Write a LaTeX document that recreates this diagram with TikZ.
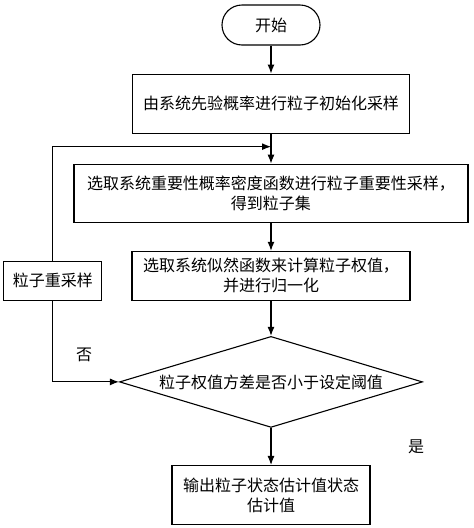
\documentclass[tikz,border=0pt]{standalone}
\usepackage{fontspec}
\setmainfont{Noto Sans CJK SC}
\usetikzlibrary{positioning, calc, shapes.geometric, arrows.meta}

\begin{document}
\begin{tikzpicture}[node distance=28pt, auto, line width=1.1pt, font=\fontsize{16}{20}\selectfont]
        % Define block styles
        \tikzstyle{block} = [rectangle, draw, align=center, inner sep=0pt]
        \tikzstyle{terminal} = [rectangle, draw, rounded corners=20pt, minimum width=98pt, minimum height=40pt]
        \tikzstyle{decision} = [diamond, draw, aspect=3.33, inner sep=0pt, minimum width=303pt, minimum height=91pt]
        \tikzstyle{arrow} = [-{Latex[length=9pt, width=7pt]}]

        \useasboundingbox (0,0) rectangle (474pt,-528pt);

        % Place nodes
        \node [terminal] (start) at (271pt,-25pt) {开始};
        \node [block, minimum width=277pt, minimum height=59pt, below=28pt of start] (init) {由系统先验概率进行粒子初始化采样};
        \node [block, minimum width=394pt, minimum height=58pt, below=30pt of init] (sampling) {选取系统重要性概率密度函数进行粒子重要性采样，\\得到粒子集};
        \node [block, minimum width=278pt, minimum height=49pt, below=28pt of sampling] (weight) {选取系统似然函数来计算粒子权值，\\并进行归一化};
        \node [block, minimum width=98pt, minimum height=39pt, anchor=south east] (resample) at ([xshift=-29pt]weight.south west) {粒子重采样};
        \node [decision, below=35pt of weight] (check) {粒子权值方差是否小于设定阈值};
        \node [block, minimum width=198pt, minimum height=59pt, below=37pt of check] (output) {输出粒子状态估计值状态\\估计值};
        \coordinate (join) at ($(init.south)+(0,-13pt)$);

        % Draw connections as arrows
        \draw [arrow] (start) -- (init);
        \draw [arrow] (init) -- (sampling);
        \draw [arrow] (sampling) -- (weight);
        \draw [arrow] (weight) -- (check);
        \draw [arrow] (check) -- (output);
        \draw [arrow] (resample.north) |- (join);
        \draw [arrow] (resample.south) |- (check.west);

        % Add text on the arrows
        \node (no) at (84pt,-355pt) {否};
        \node (yes) at (416pt,-447pt) {是};
    \end{tikzpicture}
\end{document}
